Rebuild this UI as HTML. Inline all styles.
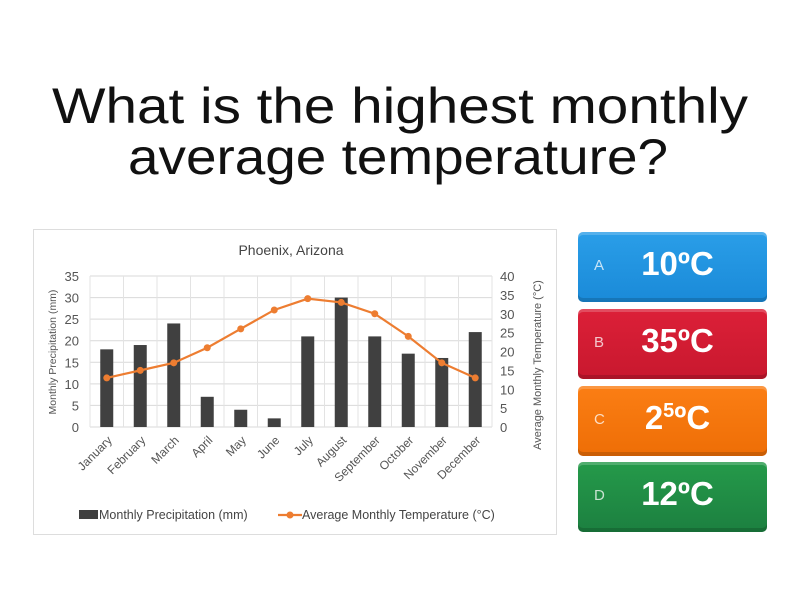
<!DOCTYPE html>
<html><head><meta charset="utf-8"><style>
body{margin:0;width:800px;height:600px;background:#fff;overflow:hidden;font-family:"Liberation Sans",sans-serif}
.btn{position:absolute;left:578px;width:189px;height:70px;border-radius:5px;color:#fff;box-shadow:inset 0 -4px 0 rgba(0,0,0,0.15),inset 0 3px 0 rgba(255,255,255,0.2)}
.btn .l{position:absolute;left:16px;top:25px;font-size:15px;opacity:0.75}
.btn .t{position:absolute;left:0;right:0;top:13px;text-align:center;font-size:33px;font-weight:bold;padding-left:10px}
</style></head><body>
<svg width="800" height="210" style="position:absolute;left:0;top:0">
<text x="52" y="123" font-size="50" textLength="696" lengthAdjust="spacingAndGlyphs" fill="#111">What is the highest monthly</text>
<text x="128" y="174" font-size="50" textLength="540" lengthAdjust="spacingAndGlyphs" fill="#111">average temperature?</text>
</svg>
<svg id="chart" width="524" height="306" style="position:absolute;left:33px;top:229px"></svg>
<div class="btn" style="top:232px;background:linear-gradient(#2a9ee8,#1a8ad8)"><span class="l">A</span><span class="t">10ºC</span></div>
<div class="btn" style="top:309px;background:linear-gradient(#dc2038,#c8182e)"><span class="l">B</span><span class="t">35ºC</span></div>
<div class="btn" style="top:386px;background:linear-gradient(#fb7e14,#ee6e06)"><span class="l">C</span><span class="t">2<sup style="font-size:20px">5</sup>ºC</span></div>
<div class="btn" style="top:462px;background:linear-gradient(#259a4a,#1c8040)"><span class="l">D</span><span class="t">12ºC</span></div>
<script>
const months=["January","February","March","April","May","June","July","August","September","October","November","December"];
const precip=[18,19,24,7,4,2,21,30,21,17,16,22];
const temp=[13,15,17,21,26,31,34,33,30,24,17,13];
const leftTicks=[0,5,10,15,20,25,30,35];
const rightTicks=[0,5,10,15,20,25,30,35,40];
const svg=document.getElementById('chart');const NS='http://www.w3.org/2000/svg';
function mk(t,a,p){const e=document.createElementNS(NS,t);for(const k in a)e.setAttribute(k,a[k]);(p||svg).appendChild(e);return e;}
const ox=-33,oy=-229;
const X0=90+ox,X1=492+ox,Y0=427+oy,Y1=276+oy,cw=(X1-X0)/12;
const yL=v=>Y0-(v/35)*(Y0-Y1), yR=v=>Y0-(v/40)*(Y0-Y1), xc=i=>X0+cw*(i+0.5);
let b=mk('rect',{x:0.5,y:0.5,width:523,height:305,fill:'#fff',stroke:'#ddd'});


let t=mk('text',{x:(X0+X1)/2,y:26,'text-anchor':'middle','font-size':14,fill:'#444'});t.textContent='Phoenix, Arizona';


leftTicks.forEach(v=>{mk('line',{x1:X0,x2:X1,y1:yL(v),y2:yL(v),stroke:'#d9d9d9'});
 const e=mk('text',{x:X0-11,y:yL(v)+5,'text-anchor':'end','font-size':13,fill:'#555'});e.textContent=v;
 
 });
rightTicks.forEach(v=>{const e=mk('text',{x:X1+8,y:yR(v)+5,'font-size':13,fill:'#555'});e.textContent=v;
 
 });
for(let i=0;i<=12;i++)mk('line',{x1:X0+cw*i,x2:X0+cw*i,y1:Y1,y2:Y0,stroke:'#e3e3e3'});
months.forEach((m,i)=>{const r=mk('rect',{x:xc(i)-6.5,y:yL(precip[i]),width:13,height:Y0-yL(precip[i]),fill:'#404040'});
 
 
 const e=mk('text',{x:xc(i)+6,y:Y0+14,'text-anchor':'end','font-size':12,fill:'#555',transform:`rotate(-45 ${xc(i)+6} ${Y0+14})`});e.textContent=m;
 
 });
const ln=mk('polyline',{points:temp.map((v,i)=>xc(i)+','+yR(v)).join(' '),fill:'none',stroke:'#ed7d31','stroke-width':2.2});


temp.forEach((v,i)=>{const c=mk('circle',{cx:xc(i),cy:yR(v),r:3.5,fill:'#ed7d31'});
 
 });
let a=mk('text',{x:0,y:0,'font-size':10.5,fill:'#555','text-anchor':'middle',transform:`translate(${56+ox},${352+oy}) rotate(-90)`});a.textContent='Monthly Precipitation  (mm)';


a=mk('text',{x:0,y:0,'font-size':11,fill:'#555','text-anchor':'middle',transform:`translate(${541+ox},${365+oy}) rotate(-90)`});a.textContent='Average Monthly  Temperature (°C)';


const ly=515+oy;
mk('rect',{x:79+ox,y:ly-5,width:19,height:9,fill:'#404040'});
a=mk('text',{x:99+ox,y:ly+4,'font-size':12.5,fill:'#444'});a.textContent='Monthly Precipitation  (mm)';


mk('line',{x1:278+ox,x2:302+ox,y1:ly,y2:ly,stroke:'#ed7d31','stroke-width':2.2});
mk('circle',{cx:290+ox,cy:ly,r:3.5,fill:'#ed7d31'});
a=mk('text',{x:302+ox,y:ly+4,'font-size':12.5,fill:'#444'});a.textContent='Average Monthly  Temperature (°C)';


</script>
</body></html>
